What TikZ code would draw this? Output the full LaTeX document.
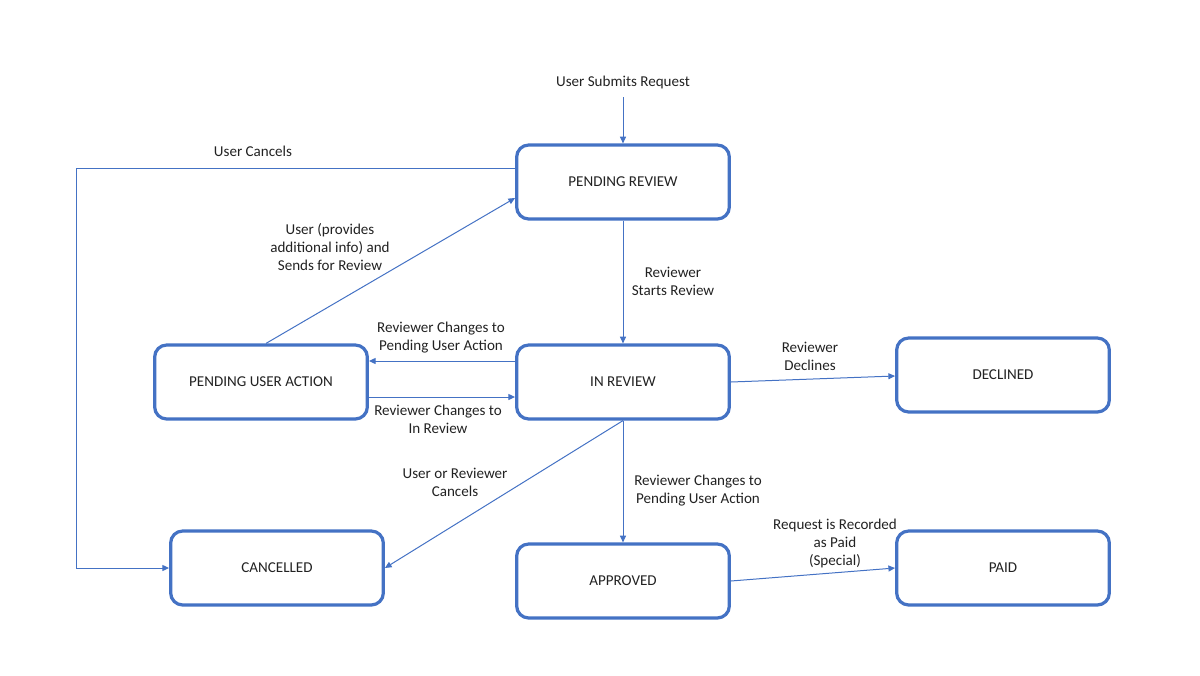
\documentclass[tikz,border=0pt]{standalone}
\usepackage{fontspec}
\setmainfont{Carlito}
\usetikzlibrary{arrows.meta,calc}
\definecolor{boxblue}{HTML}{4472C4}
\definecolor{txt}{HTML}{222222}
\begin{document}
\begin{tikzpicture}[x=0.75pt,y=-0.75pt,
  every node/.style={text=txt,font=\fontsize{11.3}{13.5}\selectfont},
  state/.style={draw=boxblue,line width=2.4pt,rounded corners=9pt,minimum width=159.5pt,minimum height=55.5pt,fill=white,inner sep=0pt},
  conn/.style={draw=boxblue,line width=0.75pt,-{Triangle[length=5pt,width=4.5pt]}},
  lbl/.style={align=center,inner sep=1pt}]
\useasboundingbox (0,0) rectangle (1200,675);
\node[state] (pr) at (623,182) {PENDING REVIEW};
\node[state] (pua) at (261,382) {PENDING USER ACTION};
\node[state] (ir) at (623,382) {IN REVIEW};
\node[state] (dec) at (1003,375) {DECLINED};
\node[state] (can) at (277,568) {CANCELLED};
\node[state] (ap) at (623,581) {APPROVED};
\node[state] (paid) at (1003,568) {PAID};

\node[lbl] (start) at (623,82) {User Submits Request};
\coordinate (s0) at (623,97);
\draw[conn] (s0) -- (pr.north);

\coordinate (c1) at (76,168);
\coordinate (c2) at (76,568);
\draw[conn] ($(pr.west)+(0,-14)$) -- (c1) -- (c2) -- (can.west);
\node[lbl] (l1) at (253,151) {User Cancels};

\draw[conn] ($(pua.north)+(5,0)$) -- ($(pr.west)+(0,16)$);
\node[lbl] (l2) at (330,247) {User (provides\\additional info) and\\Sends for Review};

\draw[conn] ($(ir.west)+(0,-21)$) -- ($(pua.east)+(0,-21)$);
\node[lbl] (l3) at (441,338) {Reviewer Changes to\\Pending User Action};

\draw[conn] ($(pua.east)+(0,15)$) -- ($(ir.west)+(0,15)$);
\node[lbl] (l4) at (438,419) {Reviewer Changes to\\In Review};

\draw[conn] (pr.south) -- (ir.north);
\node[lbl] (l5) at (673,281) {Reviewer\\Starts Review};

\draw[conn] (ir.east) -- ($(dec.west)+(0,1)$);
\node[lbl] (l6) at (810,356) {Reviewer\\Declines};

\draw[conn] (ir.south) -- (can.east);
\node[lbl] (l7) at (455,482) {User or Reviewer\\Cancels};

\draw[conn] (ir.south) -- (ap.north);
\node[lbl] (l8) at (698,491) {Reviewer Changes to\\Pending User Action};

\draw[conn] (ap.east) -- (paid.west);
\node[lbl] (l9) at (835,543) {Request is Recorded\\as Paid\\(Special)};
\end{tikzpicture}
\end{document}
